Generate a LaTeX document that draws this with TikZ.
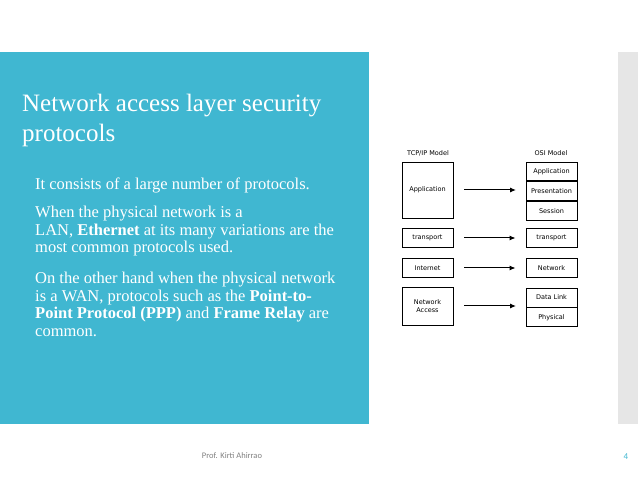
\documentclass[tikz,border=0pt]{standalone}
\usepackage{fontspec}
\setmainfont{Liberation Serif}
\newfontfamily\diagfont{DejaVu Sans}
\newfontfamily\footfont{Carlito}
\usetikzlibrary{positioning,arrows.meta}
\definecolor{slideblue}{RGB}{64,183,209}
\definecolor{stripgray}{RGB}{230,230,230}
\tikzset{
  layer/.style={draw, line width=0.9pt, minimum width=51pt, font=\diagfont\fontsize{6.5}{8}\selectfont, align=center, inner sep=0pt},
  para/.style={anchor=north west, text=white, align=left, inner sep=0pt, font=\fontsize{16.5}{17.5}\selectfont},
  maps/.style={-{Latex[length=6pt,width=5pt]}, line width=1pt}
}
\begin{document}
\begin{tikzpicture}[x=1pt, y=-1pt]
  \useasboundingbox (0,0) rectangle (638,478);
  % background panels
  \fill[slideblue] (0,52) rectangle (369,424);
  \fill[stripgray] (618,52) rectangle (638,424);

  % title and text
  \node[anchor=north west, text=white, align=left, inner sep=0pt, font=\fontsize{25}{30}\selectfont] (title) at (22,94) {Network access layer security\\protocols};
  \node[para] (p1) at (35,178) {It consists of a large number of protocols.};
  \node[para] (p2) at (35,206) {When the physical network is a\\LAN, \textbf{Ethernet} at its many variations are the\\most common protocols used.};
  \node[para] (p3) at (35,272) {On the other hand when the physical network\\is a WAN, protocols such as the \textbf{Point-to-}\\\textbf{Point Protocol (PPP)} and \textbf{Frame Relay} are\\common.};

  % TCP/IP model
  \node[font=\diagfont\fontsize{6.5}{8}\selectfont] (tcphead) at (428,153) {TCP/IP Model};
  \node[layer, minimum height=56pt] (tapp) at (427.5,190) {Application};
  \node[layer, minimum height=19pt] (ttra) at (427.5,238) {transport};
  \node[layer, minimum height=19pt] (tint) at (427.5,268) {Internet};
  \node[layer, minimum height=38pt] (tnet) at (427.5,306) {Network\\Access};

  % OSI model
  \node[font=\diagfont\fontsize{6.5}{8}\selectfont] (osihead) at (551,153) {OSI Model};
  \node[layer, minimum height=18.7pt] (oapp) at (551.5,171.5) {Application};
  \node[layer, minimum height=18.7pt, below=0pt of oapp] (opre) {Presentation};
  \node[layer, minimum height=18.7pt, below=0pt of opre] (oses) {Session};
  \node[layer, minimum height=19pt] (otra) at (551.5,238) {transport};
  \node[layer, minimum height=19pt] (onet) at (551.5,268) {Network};
  \node[layer, minimum height=19pt] (odat) at (551.5,297.5) {Data Link};
  \node[layer, minimum height=19pt, below=0pt of odat] (ophy) {Physical};

  % mappings
  \coordinate (a1) at (516,190);
  \coordinate (a4) at (516,306);
  \draw[maps] ([xshift=11pt]tapp.east) -- (a1);
  \draw[maps] ([xshift=11pt]ttra.east) -- ([xshift=-10pt]otra.west);
  \draw[maps] ([xshift=11pt]tint.east) -- ([xshift=-10pt]onet.west);
  \draw[maps] ([xshift=11pt]tnet.east) -- (a4);

  % footer
  \node[text=gray, font=\footfont\fontsize{8.5}{10}\selectfont] (author) at (232,456) {Prof. Kirti Ahirrao};
  \node[text=slideblue, font=\footfont\fontsize{9}{10}\selectfont] (page) at (626,457) {4};
\end{tikzpicture}
\end{document}
